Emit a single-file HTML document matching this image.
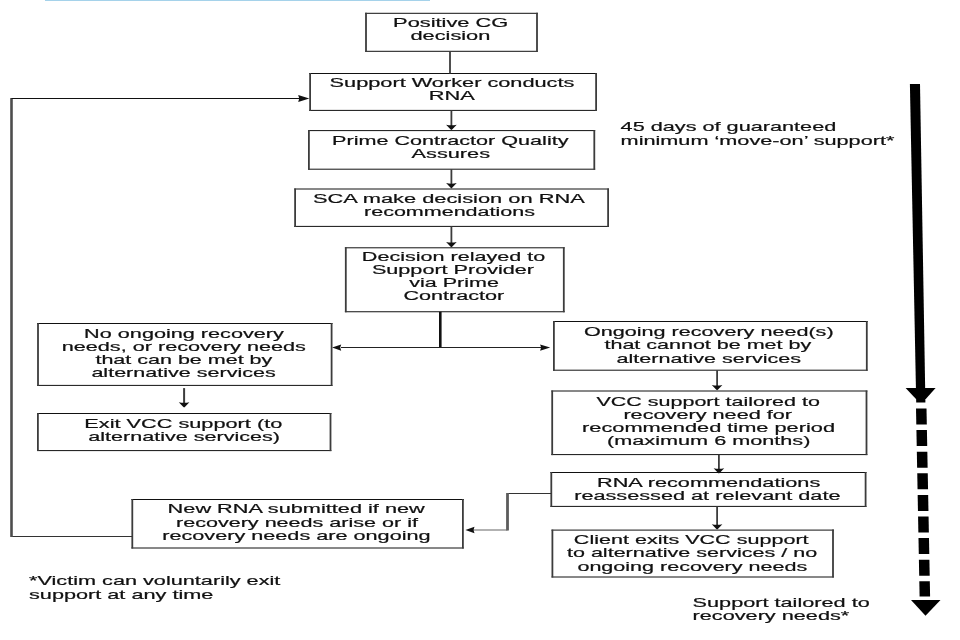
<!DOCTYPE html>
<html><head><meta charset="utf-8"><style>
html,body{margin:0;padding:0;background:#fff;}
body{width:960px;height:640px;overflow:hidden;position:relative;}
svg{display:block;position:absolute;left:0;top:0;filter:grayscale(1);}
.bl{position:absolute;left:45.2px;top:0;width:385.2px;height:1.05px;background:#a5d2ea;}
text{font-family:"Liberation Sans",sans-serif;font-size:12px;fill:#111;stroke:#111;stroke-width:0.2px;}
</style></head><body>
<div class="bl"></div>
<svg width="960" height="640" viewBox="0 0 960 640">
<g>
<line x1="365.10" y1="13.30" x2="537.90" y2="13.30" stroke="#111" stroke-width="1.0"/>
<line x1="365.10" y1="51.30" x2="537.90" y2="51.30" stroke="#111" stroke-width="1.0"/>
<line x1="366.00" y1="12.80" x2="366.00" y2="51.80" stroke="#3c3c3c" stroke-width="1.8"/>
<line x1="537.00" y1="12.80" x2="537.00" y2="51.80" stroke="#3c3c3c" stroke-width="1.8"/>
<line x1="309.20" y1="73.50" x2="597.00" y2="73.50" stroke="#111" stroke-width="1.0"/>
<line x1="309.20" y1="110.40" x2="597.00" y2="110.40" stroke="#111" stroke-width="1.0"/>
<line x1="310.10" y1="73.00" x2="310.10" y2="110.90" stroke="#3c3c3c" stroke-width="1.8"/>
<line x1="596.10" y1="73.00" x2="596.10" y2="110.90" stroke="#3c3c3c" stroke-width="1.8"/>
<line x1="308.00" y1="130.60" x2="595.20" y2="130.60" stroke="#111" stroke-width="1.0"/>
<line x1="308.00" y1="169.20" x2="595.20" y2="169.20" stroke="#111" stroke-width="1.0"/>
<line x1="308.90" y1="130.10" x2="308.90" y2="169.70" stroke="#3c3c3c" stroke-width="1.8"/>
<line x1="594.30" y1="130.10" x2="594.30" y2="169.70" stroke="#3c3c3c" stroke-width="1.8"/>
<line x1="294.20" y1="189.00" x2="609.00" y2="189.00" stroke="#111" stroke-width="1.0"/>
<line x1="294.20" y1="226.40" x2="609.00" y2="226.40" stroke="#111" stroke-width="1.0"/>
<line x1="295.10" y1="188.50" x2="295.10" y2="226.90" stroke="#3c3c3c" stroke-width="1.8"/>
<line x1="608.10" y1="188.50" x2="608.10" y2="226.90" stroke="#3c3c3c" stroke-width="1.8"/>
<line x1="344.90" y1="247.80" x2="564.70" y2="247.80" stroke="#111" stroke-width="1.0"/>
<line x1="344.90" y1="311.75" x2="564.70" y2="311.75" stroke="#111" stroke-width="1.0"/>
<line x1="345.80" y1="247.30" x2="345.80" y2="312.25" stroke="#3c3c3c" stroke-width="1.8"/>
<line x1="563.80" y1="247.30" x2="563.80" y2="312.25" stroke="#3c3c3c" stroke-width="1.8"/>
<line x1="37.10" y1="323.50" x2="332.50" y2="323.50" stroke="#111" stroke-width="1.0"/>
<line x1="37.10" y1="385.40" x2="332.50" y2="385.40" stroke="#111" stroke-width="1.0"/>
<line x1="38.00" y1="323.00" x2="38.00" y2="385.90" stroke="#3c3c3c" stroke-width="1.8"/>
<line x1="331.60" y1="323.00" x2="331.60" y2="385.90" stroke="#3c3c3c" stroke-width="1.8"/>
<line x1="37.00" y1="413.50" x2="331.40" y2="413.50" stroke="#111" stroke-width="1.0"/>
<line x1="37.00" y1="450.60" x2="331.40" y2="450.60" stroke="#111" stroke-width="1.0"/>
<line x1="37.90" y1="413.00" x2="37.90" y2="451.10" stroke="#3c3c3c" stroke-width="1.8"/>
<line x1="330.50" y1="413.00" x2="330.50" y2="451.10" stroke="#3c3c3c" stroke-width="1.8"/>
<line x1="553.00" y1="321.50" x2="867.70" y2="321.50" stroke="#111" stroke-width="1.0"/>
<line x1="553.00" y1="370.20" x2="867.70" y2="370.20" stroke="#111" stroke-width="1.0"/>
<line x1="553.90" y1="321.00" x2="553.90" y2="370.70" stroke="#3c3c3c" stroke-width="1.8"/>
<line x1="866.80" y1="321.00" x2="866.80" y2="370.70" stroke="#3c3c3c" stroke-width="1.8"/>
<line x1="551.30" y1="391.00" x2="867.40" y2="391.00" stroke="#111" stroke-width="1.0"/>
<line x1="551.30" y1="454.60" x2="867.40" y2="454.60" stroke="#111" stroke-width="1.0"/>
<line x1="552.20" y1="390.50" x2="552.20" y2="455.10" stroke="#3c3c3c" stroke-width="1.8"/>
<line x1="866.50" y1="390.50" x2="866.50" y2="455.10" stroke="#3c3c3c" stroke-width="1.8"/>
<line x1="550.40" y1="472.50" x2="866.50" y2="472.50" stroke="#111" stroke-width="1.0"/>
<line x1="550.40" y1="506.40" x2="866.50" y2="506.40" stroke="#111" stroke-width="1.0"/>
<line x1="551.30" y1="472.00" x2="551.30" y2="506.90" stroke="#3c3c3c" stroke-width="1.8"/>
<line x1="865.60" y1="472.00" x2="865.60" y2="506.90" stroke="#3c3c3c" stroke-width="1.8"/>
<line x1="551.50" y1="530.10" x2="833.90" y2="530.10" stroke="#111" stroke-width="1.0"/>
<line x1="551.50" y1="577.00" x2="833.90" y2="577.00" stroke="#111" stroke-width="1.0"/>
<line x1="552.40" y1="529.60" x2="552.40" y2="577.50" stroke="#3c3c3c" stroke-width="1.8"/>
<line x1="833.00" y1="529.60" x2="833.00" y2="577.50" stroke="#3c3c3c" stroke-width="1.8"/>
<line x1="131.40" y1="499.50" x2="463.80" y2="499.50" stroke="#111" stroke-width="1.0"/>
<line x1="131.40" y1="548.00" x2="463.80" y2="548.00" stroke="#111" stroke-width="1.0"/>
<line x1="132.30" y1="499.00" x2="132.30" y2="548.50" stroke="#3c3c3c" stroke-width="1.8"/>
<line x1="462.90" y1="499.00" x2="462.90" y2="548.50" stroke="#3c3c3c" stroke-width="1.8"/>
<line x1="450.00" y1="51.30" x2="450.00" y2="73.50" stroke="#3c3c3c" stroke-width="1.8"/>
<line x1="451.40" y1="110.40" x2="451.40" y2="126.00" stroke="#3c3c3c" stroke-width="1.8"/>
<path d="M446.10,124.70 Q451.40,125.80 456.70,124.70 L452.40,129.20 L451.40,130.00 L450.40,129.20 Z" fill="#111"/>
<line x1="451.40" y1="169.20" x2="451.40" y2="184.40" stroke="#3c3c3c" stroke-width="1.8"/>
<path d="M446.10,183.10 Q451.40,184.20 456.70,183.10 L452.40,187.60 L451.40,188.40 L450.40,187.60 Z" fill="#111"/>
<line x1="451.40" y1="226.40" x2="451.40" y2="243.20" stroke="#3c3c3c" stroke-width="1.8"/>
<path d="M446.10,241.90 Q451.40,243.00 456.70,241.90 L452.40,246.40 L451.40,247.20 L450.40,246.40 Z" fill="#111"/>
<line x1="440.30" y1="311.75" x2="440.30" y2="348.00" stroke="#111" stroke-width="2.6"/>
<line x1="341.00" y1="347.50" x2="548.00" y2="347.50" stroke="#222" stroke-width="1.0"/>
<path d="M332.10,347.60 L341.20,344.40 L340.20,347.60 L341.20,350.80 Z" fill="#111"/>
<path d="M550.20,347.60 L540.10,344.40 L541.10,347.60 L540.10,350.80 Z" fill="#111"/>
<line x1="184.10" y1="388.10" x2="184.10" y2="403.60" stroke="#3c3c3c" stroke-width="2.0"/>
<path d="M178.80,402.30 Q184.10,403.40 189.40,402.30 L185.10,406.80 L184.10,407.60 L183.10,406.80 Z" fill="#111"/>
<line x1="717.10" y1="370.20" x2="717.10" y2="386.20" stroke="#3c3c3c" stroke-width="1.8"/>
<path d="M711.80,384.90 Q717.10,386.00 722.40,384.90 L718.10,389.40 L717.10,390.20 L716.10,389.40 Z" fill="#111"/>
<line x1="718.90" y1="454.80" x2="718.90" y2="469.60" stroke="#3c3c3c" stroke-width="1.8"/>
<path d="M713.60,468.30 Q718.90,469.40 724.20,468.30 L719.90,472.80 L718.90,473.60 L717.90,472.80 Z" fill="#111"/>
<line x1="717.10" y1="506.40" x2="717.10" y2="525.60" stroke="#3c3c3c" stroke-width="1.8"/>
<path d="M711.80,524.30 Q717.10,525.40 722.40,524.30 L718.10,528.80 L717.10,529.60 L716.10,528.80 Z" fill="#111"/>
<line x1="507.50" y1="493.50" x2="551.30" y2="493.50" stroke="#333" stroke-width="1.0"/>
<line x1="507.50" y1="493.00" x2="507.50" y2="530.50" stroke="#5c5c5c" stroke-width="2.8"/>
<line x1="473.00" y1="530.00" x2="507.50" y2="530.00" stroke="#666" stroke-width="1.2"/>
<path d="M465.40,530.00 L474.50,526.80 L473.50,530.00 L474.50,533.20 Z" fill="#111"/>
<line x1="11.50" y1="536.50" x2="132.30" y2="536.50" stroke="#333" stroke-width="1.0"/>
<line x1="11.50" y1="98.00" x2="11.50" y2="537.00" stroke="#4d4d4d" stroke-width="2.6"/>
<line x1="11.50" y1="98.50" x2="300.00" y2="98.50" stroke="#111" stroke-width="1.0"/>
<path d="M309.30,98.50 L298.20,95.00 L299.20,98.50 L298.20,102.00 Z" fill="#111"/>
<polygon points="909.9,84 920,84 925.4,402.5 916.2,402.5" fill="#000"/>
<polygon points="905.6,388 935.6,388 925.8,399 916,399" fill="#000"/>
<polygon points="916.01,408.50 926.51,408.50 926.81,424.50 916.31,424.50" fill="#000"/>
<polygon points="916.42,430.10 926.92,430.10 927.23,446.10 916.73,446.10" fill="#000"/>
<polygon points="916.83,451.70 927.33,451.70 927.64,467.70 917.14,467.70" fill="#000"/>
<polygon points="917.25,473.30 927.75,473.30 928.05,489.30 917.55,489.30" fill="#000"/>
<polygon points="917.66,494.90 928.16,494.90 928.46,510.90 917.96,510.90" fill="#000"/>
<polygon points="918.07,516.50 928.57,516.50 928.87,532.50 918.37,532.50" fill="#000"/>
<polygon points="918.48,538.10 928.98,538.10 929.29,554.10 918.79,554.10" fill="#000"/>
<polygon points="918.89,559.70 929.39,559.70 929.70,575.70 919.20,575.70" fill="#000"/>
<polygon points="919.31,581.30 929.81,581.30 930.10,596.50 919.60,596.50" fill="#000"/>
<polygon points="911,600.1 940.5,600.1 925.5,615.8" fill="#000"/>
<text x="247.598" y="27.20" text-anchor="middle" transform="scale(1.8203,1)">Positive CG</text>
<text x="247.967" y="40.20" text-anchor="middle" transform="scale(1.8164,1)">decision</text>
<text x="249.369" y="86.90" text-anchor="middle" transform="scale(1.8126,1)">Support Worker conducts</text>
<text x="247.933" y="100.20" text-anchor="middle" transform="scale(1.8219,1)">RNA</text>
<text x="250.153" y="144.70" text-anchor="middle" transform="scale(1.8001,1)">Prime Contractor Quality</text>
<text x="248.947" y="158.25" text-anchor="middle" transform="scale(1.8108,1)">Assures</text>
<text x="246.821" y="202.60" text-anchor="middle" transform="scale(1.8187,1)">SCA make decision on RNA</text>
<text x="250.754" y="216.10" text-anchor="middle" transform="scale(1.7926,1)">recommendations</text>
<text x="252.196" y="260.90" text-anchor="middle" transform="scale(1.7982,1)">Decision relayed to</text>
<text x="251.360" y="273.90" text-anchor="middle" transform="scale(1.8022,1)">Support Provider</text>
<text x="253.425" y="286.90" text-anchor="middle" transform="scale(1.7919,1)">via Prime</text>
<text x="251.839" y="299.90" text-anchor="middle" transform="scale(1.8023,1)">Contractor</text>
<text x="101.914" y="337.90" text-anchor="middle" transform="scale(1.8054,1)">No ongoing recovery</text>
<text x="101.822" y="351.00" text-anchor="middle" transform="scale(1.8051,1)">needs, or recovery needs</text>
<text x="102.522" y="364.10" text-anchor="middle" transform="scale(1.7938,1)">that can be met by</text>
<text x="102.203" y="377.20" text-anchor="middle" transform="scale(1.7964,1)">alternative services</text>
<text x="101.225" y="427.70" text-anchor="middle" transform="scale(1.8108,1)">Exit VCC support (to</text>
<text x="102.321" y="441.00" text-anchor="middle" transform="scale(1.7992,1)">alternative services)</text>
<text x="393.826" y="335.90" text-anchor="middle" transform="scale(1.7997,1)">Ongoing recovery need(s)</text>
<text x="394.574" y="349.30" text-anchor="middle" transform="scale(1.7940,1)">that cannot be met by</text>
<text x="394.505" y="362.70" text-anchor="middle" transform="scale(1.7966,1)">alternative services</text>
<text x="394.695" y="405.90" text-anchor="middle" transform="scale(1.7942,1)">VCC support tailored to</text>
<text x="391.648" y="418.90" text-anchor="middle" transform="scale(1.8071,1)">recovery need for</text>
<text x="389.930" y="431.90" text-anchor="middle" transform="scale(1.8171,1)">recommended time period</text>
<text x="392.502" y="444.90" text-anchor="middle" transform="scale(1.8057,1)">(maximum 6 months)</text>
<text x="391.480" y="486.90" text-anchor="middle" transform="scale(1.8102,1)">RNA recommendations</text>
<text x="391.280" y="499.80" text-anchor="middle" transform="scale(1.8078,1)">reassessed at relevant date</text>
<text x="384.642" y="543.90" text-anchor="middle" transform="scale(1.7970,1)">Client exits VCC support</text>
<text x="385.143" y="557.35" text-anchor="middle" transform="scale(1.7970,1)">to alternative services / no</text>
<text x="385.720" y="570.80" text-anchor="middle" transform="scale(1.7948,1)">ongoing recovery needs</text>
<text x="163.509" y="513.40" text-anchor="middle" transform="scale(1.8115,1)">New RNA submitted if new</text>
<text x="165.075" y="526.90" text-anchor="middle" transform="scale(1.7992,1)">recovery needs arise or if</text>
<text x="164.320" y="540.40" text-anchor="middle" transform="scale(1.8038,1)">recovery needs are ongoing</text>
<text x="343.44" y="131.50" transform="scale(1.807,1)">45 days of guaranteed</text>
<text x="343.44" y="144.90" transform="scale(1.807,1)">minimum ‘move-on’ support*</text>
<text x="16.05" y="585.30" transform="scale(1.807,1)">*Victim can voluntarily exit</text>
<text x="16.05" y="598.80" transform="scale(1.807,1)">support at any time</text>
<text x="383.29" y="607.00" transform="scale(1.807,1)">Support tailored to</text>
<text x="383.29" y="620.20" transform="scale(1.807,1)">recovery needs*</text>
</g>
</svg>
</body></html>
